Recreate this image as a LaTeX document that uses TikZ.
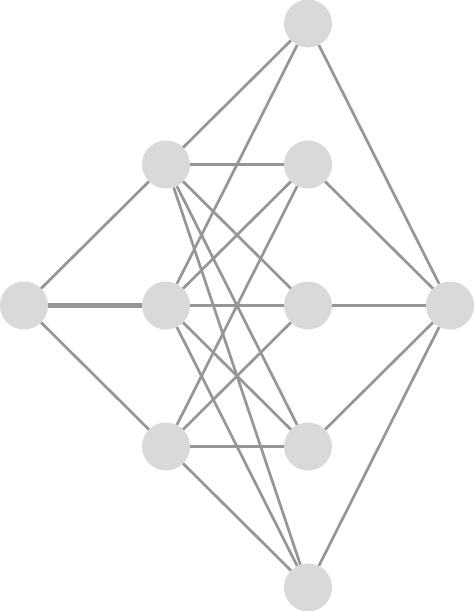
\documentclass[tikz,border=0pt]{standalone}
\definecolor{nodegray}{HTML}{D9D9D9}
\definecolor{linegray}{HTML}{969696}
\begin{document}
\begin{tikzpicture}[x=1pt,y=-1pt,
  neuron/.style={circle,fill=nodegray,draw=none,minimum size=48pt,inner sep=0pt},
  conn/.style={draw=linegray,line width=2.7pt},
  thickconn/.style={draw=linegray,line width=4.6pt}]
\useasboundingbox (0,0) rectangle (474,611);
\node[neuron] (i)  at (24,305.5) {};
\node[neuron] (a1) at (166,164.5) {};
\node[neuron] (a2) at (166,305.5) {};
\node[neuron] (a3) at (166,446.5) {};
\node[neuron] (b1) at (308,23.5) {};
\node[neuron] (b2) at (308,164.5) {};
\node[neuron] (b3) at (308,305.5) {};
\node[neuron] (b4) at (308,446.5) {};
\node[neuron] (b5) at (308,587.5) {};
\node[neuron] (o)  at (450,305.5) {};
\draw[conn] (i) -- (a1);
\draw[thickconn] (i) -- (a2);
\draw[conn] (i) -- (a3);
\foreach \t in {b1,b2,b3,b4,b5} {\draw[conn] (a1) -- (\t);}
\foreach \t in {b1,b2,b3,b4,b5} {\draw[conn] (a2) -- (\t);}
\foreach \t in {b2,b3,b4,b5} {\draw[conn] (a3) -- (\t);}
\foreach \s in {b1,b2,b3,b4,b5} {\draw[conn] (\s) -- (o);}
\end{tikzpicture}
\end{document}
